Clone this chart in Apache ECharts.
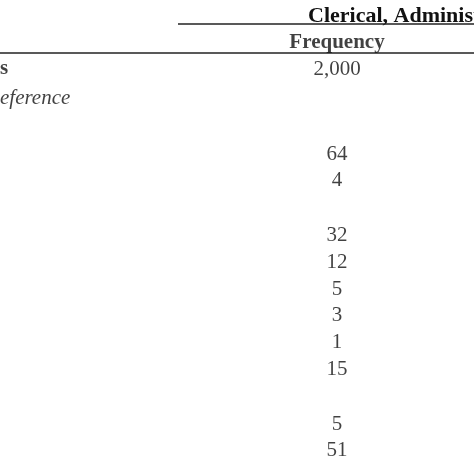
<!DOCTYPE html>
<html>
<head>
<meta charset="utf-8">
<script src="https://cdn.jsdelivr.net/npm/echarts@6/dist/echarts.min.js"></script>
<style>
  html, body { margin: 0; padding: 0; background: #fff; }
  #chart { width: 474px; height: 474px; }
</style>
</head>
<body>
<div id="chart"></div>
<script>
/* Table fragment: frequency column */
const groupTitle = 'Clerical, Administrative';
const columnTitle = 'Frequency';
const rowLabels = [
    { text: 's', row: 0, bold: true, italic: false },
    { text: 'eference', row: 1.08, bold: false, italic: true }
];
const freqValues = ['2,000', '64', '4', '32', '12', '5', '3', '1', '15', '5', '51'];
const freqRows = [0, 3.16, 4.16, 6.2, 7.2, 8.2, 9.17, 10.17, 11.17, 13.2, 14.2];

const ROW_H = 26.9, ROW0_Y = 69, COL_X = 337;
const font = "'Liberation Serif', 'Times New Roman', serif";

let chartDom = document.getElementById('chart');
let myChart = echarts.init(chartDom);

let option = {
    backgroundColor: '#fff',
    animation: false,
    grid: { left: 0, right: 0, top: 0, bottom: 0 },
    xAxis: { type: 'value', min: 0, max: 474, show: false },
    yAxis: {
        type: 'value', inverse: true, show: false,
        min: -ROW0_Y / ROW_H, max: (474 - ROW0_Y) / ROW_H
    },
    graphic: [
        { type: 'text', left: 308, top: 5,
          style: { text: groupTitle, font: 'bold 22px ' + font, fill: '#111' } },
        { type: 'line', shape: { x1: 178, y1: 24, x2: 474, y2: 24 },
          style: { stroke: '#222', lineWidth: 1.5 } },
        { type: 'line', shape: { x1: 0, y1: 53, x2: 474, y2: 53 },
          style: { stroke: '#222', lineWidth: 1.5 } }
    ],
    series: [
        {
            type: 'scatter', symbolSize: 0, silent: true,
            data: [[COL_X, -1]].concat(freqRows.map((r, i) => ({ value: [COL_X, r], name: freqValues[i] }))),
            label: {
                show: true, position: 'inside',
                fontFamily: font, fontSize: 21, color: '#111',
                formatter: p => p.dataIndex === 0 ? '' : p.name
            }
        },
        {
            type: 'scatter', symbolSize: 0, silent: true,
            data: [{ value: [COL_X, -0.98], name: columnTitle }],
            label: { show: true, position: 'inside', fontFamily: font, fontSize: 21,
                     fontWeight: 'bold', color: '#111', formatter: p => p.name }
        },
        {
            type: 'scatter', symbolSize: 0, silent: true,
            data: rowLabels.map(d => ({ value: [0, d.row], name: d.text,
                label: { fontWeight: d.bold ? 'bold' : 'normal', fontStyle: d.italic ? 'italic' : 'normal' } })),
            label: { show: true, position: 'right', distance: 0, fontFamily: font, fontSize: 21,
                     color: '#111', formatter: p => p.name }
        }
    ]
};

option && myChart.setOption(option);
</script>
</body>
</html>
